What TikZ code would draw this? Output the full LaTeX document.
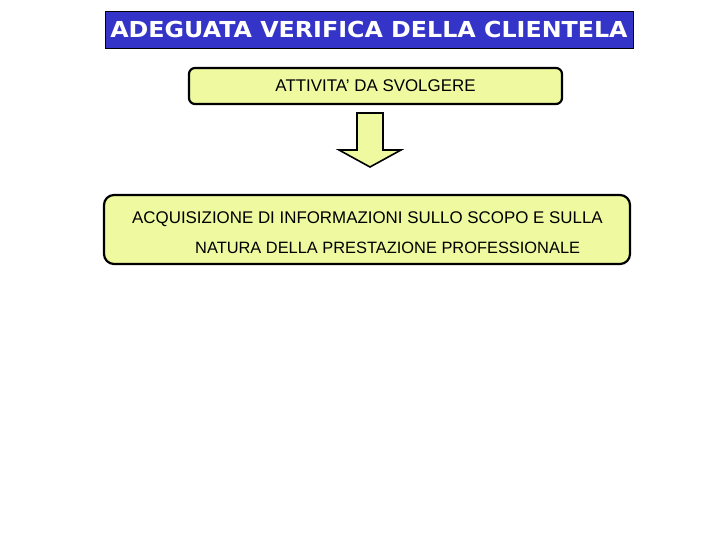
\documentclass[tikz,border=0pt]{standalone}
\usepackage{fontspec}
\setmainfont{Liberation Sans}
\newfontfamily\titlefont{DejaVu Sans}
\definecolor{titleblue}{HTML}{3434C8}
\definecolor{paleyellow}{HTML}{EEF9A0}
\begin{document}
\begin{tikzpicture}[x=1pt,y=-1pt,
  boxstyle/.style={draw=black,line width=2.2pt,fill=paleyellow},
  txt/.style={inner sep=0pt,anchor=base west}]
\useasboundingbox (0,0) rectangle (720,540);
\node[draw=black,line width=0.8pt,fill=titleblue,minimum width=528pt,minimum height=37pt,inner sep=0pt,text=white,font=\titlefont\bfseries\fontsize{22}{24}\selectfont] (title) at (369,29.5) {\scalebox{1.08}[1]{ADEGUATA VERIFICA DELLA CLIENTELA}};
\node[boxstyle,rounded corners=6pt,minimum width=373pt,minimum height=36pt,inner sep=0pt,font=\fontsize{16.9}{18}\selectfont] (att) at (375.5,86) {ATTIVITA’ DA SVOLGERE};
\draw[boxstyle,line width=1.6pt] (357,113) coordinate (arrtop) -- (383,113) -- (383,150) -- (401,150) -- (370,167) coordinate (arrtip) -- (339,150) -- (357,150) -- cycle;
\node[boxstyle,rounded corners=10pt,minimum width=526pt,minimum height=69pt,inner sep=0pt] (acq) at (367,229.5) {};
\node[txt,font=\fontsize{16.9}{18}\selectfont] (l1) at (132,224) {ACQUISIZIONE DI INFORMAZIONI SULLO SCOPO E SULLA};
\node[txt,font=\fontsize{16.4}{18}\selectfont] (l2) at (195,254) {NATURA DELLA PRESTAZIONE PROFESSIONALE};
\end{tikzpicture}
\end{document}
